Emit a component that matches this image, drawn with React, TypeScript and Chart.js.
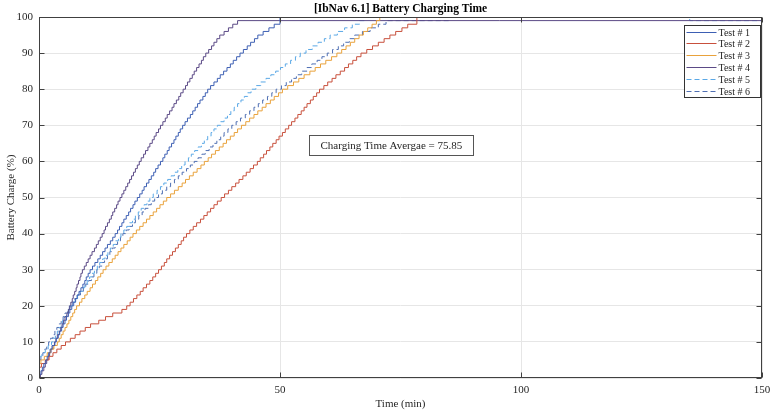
import React, { useEffect, useRef } from "react";
import { Chart, registerables } from "chart.js";

Chart.register(...registerables);

const chartTitle = "[IbNav 6.1] Battery Charging Time";
const xAxisTitle = "Time (min)";
const yAxisTitle = "Battery Charge (%)";
const seriesNames = ["Test # 1", "Test # 2", "Test # 3", "Test # 4", "Test # 5", "Test # 6"];
const seriesColors = ["#3d5fb3", "#c8503c", "#e9a23b", "#5b4a86", "#5aa8e6", "#4f6fb3"];
const seriesDashed = [false, false, false, false, true, true];
const xTicks = [0, 50, 100, 150];
const yTicks = [0, 10, 20, 30, 40, 50, 60, 70, 80, 90, 100];
const annotationText = "Charging Time Avergae = 75.85";
const annotationRange = { xFrom: 56, xTo: 90, yFrom: 61.8, yTo: 67.3 };

// [time (min), charge (%)]
const test1: [number, number][] = [[0,1],[0.4,2],[0.7,3],[1.0,4],[1.4,5],[1.7,6],[2.0,7],[2.3,8],[2.7,9],[3.3,10],[3.6,11],[4.0,12],[4.3,13],[4.7,14],[5.0,15],[5.4,16],[5.7,17],[6.1,18],[6.4,19],[6.8,20],[7.2,21],[7.6,22],[7.9,23],[8.3,24],[8.7,25],[9.1,26],[9.5,27],[9.8,28],[10.2,29],[10.6,30],[11.1,31],[11.6,32],[12.2,33],[12.7,34],[13.2,35],[13.7,36],[14.2,37],[14.8,38],[15.3,39],[15.8,40],[16.3,41],[16.7,42],[17.2,43],[17.6,44],[18.1,45],[18.6,46],[19.0,47],[19.5,48],[19.9,49],[20.4,50],[20.9,51],[21.4,52],[21.8,53],[22.3,54],[22.8,55],[23.3,56],[23.8,57],[24.2,58],[24.7,59],[25.2,60],[25.7,61],[26.1,62],[26.6,63],[27.0,64],[27.5,65],[28.0,66],[28.4,67],[28.9,68],[29.3,69],[29.8,70],[30.3,71],[30.8,72],[31.4,73],[31.9,74],[32.4,75],[32.9,76],[33.4,77],[34.0,78],[34.5,79],[35.0,80],[35.6,81],[36.3,82],[37.0,83],[37.6,84],[38.3,85],[39.0,86],[39.7,87],[40.3,88],[41.0,89],[41.7,90],[42.4,91],[43.2,92],[43.9,93],[44.7,94],[45.4,95],[46.5,96],[47.7,97],[48.8,98],[50.0,100],[150,100]];

const test2: [number, number][] = [[0,3],[0.5,4],[1.3,5],[2.1,6],[2.9,7],[3.7,8],[4.6,9],[5.5,10],[6.5,11],[7.5,12],[8.5,13],[9.6,14],[10.7,15],[12.4,16],[13.8,17],[15.3,18],[17.2,19],[18.2,20],[18.9,21],[19.6,22],[20.3,23],[21.0,24],[21.6,25],[22.3,26],[23.0,27],[23.6,28],[24.2,29],[24.8,30],[25.4,31],[26.0,32],[26.5,33],[27.1,34],[27.7,35],[28.3,36],[28.9,37],[29.5,38],[30.0,39],[30.6,40],[31.3,41],[32.0,42],[32.7,43],[33.5,44],[34.2,45],[34.9,46],[35.6,47],[36.3,48],[37.0,49],[37.8,50],[38.5,51],[39.3,52],[40.0,53],[40.8,54],[41.5,55],[42.3,56],[43.0,57],[43.8,58],[44.5,59],[45.3,60],[45.9,61],[46.6,62],[47.2,63],[47.9,64],[48.5,65],[49.2,66],[49.8,67],[50.5,68],[51.1,69],[51.8,70],[52.4,71],[53.1,72],[53.7,73],[54.4,74],[55.0,75],[55.6,76],[56.3,77],[56.9,78],[57.6,79],[58.2,80],[59.1,81],[59.9,82],[60.8,83],[61.6,84],[62.5,85],[63.4,86],[64.2,87],[65.1,88],[65.9,89],[66.8,90],[68.0,91],[69.2,92],[70.4,93],[71.6,94],[72.8,95],[74.0,96],[75.3,97],[76.5,98],[78.4,100],[150,100]];

const test3: [number, number][] = [[0,4],[0.4,5],[1.1,6],[1.7,7],[2.4,8],[3.1,9],[3.8,10],[4.2,11],[4.6,12],[5.0,13],[5.4,14],[5.8,15],[6.2,16],[6.6,17],[7.0,18],[7.4,19],[7.8,20],[8.4,21],[8.9,22],[9.5,23],[10.0,24],[10.6,25],[11.1,26],[11.7,27],[12.2,28],[12.8,29],[13.3,30],[13.9,31],[14.5,32],[15.2,33],[15.8,34],[16.4,35],[17.0,36],[17.6,37],[18.3,38],[18.9,39],[19.5,40],[20.2,41],[20.9,42],[21.6,43],[22.3,44],[23.0,45],[23.7,46],[24.4,47],[25.1,48],[25.8,49],[26.5,50],[27.3,51],[28.1,52],[28.9,53],[29.7,54],[30.4,55],[31.2,56],[32.0,57],[32.8,58],[33.6,59],[34.3,60],[35.1,61],[35.8,62],[36.6,63],[37.4,64],[38.2,65],[38.9,66],[39.7,67],[40.5,68],[41.2,69],[42.0,70],[42.9,71],[43.7,72],[44.6,73],[45.4,74],[46.3,75],[47.1,76],[48.0,77],[48.8,78],[49.7,79],[50.5,80],[51.6,81],[52.8,82],[53.9,83],[55.0,84],[56.2,85],[57.3,86],[58.4,87],[59.5,88],[60.7,89],[61.8,90],[62.8,91],[63.7,92],[64.6,93],[65.5,94],[66.4,95],[67.3,96],[68.2,97],[69.1,98],[70.0,99],[70.7,100],[150,100]];

const test4: [number, number][] = [[0,0],[0.3,1],[0.6,2],[1.0,3],[1.3,4],[1.6,5],[1.9,6],[2.2,7],[2.5,8],[2.9,9],[3.2,10],[3.5,11],[3.8,12],[4.2,13],[4.5,14],[4.8,15],[5.1,16],[5.4,17],[5.8,18],[6.1,19],[6.4,20],[6.6,21],[6.9,22],[7.1,23],[7.4,24],[7.7,25],[7.9,26],[8.2,27],[8.5,28],[8.7,29],[9.0,30],[9.4,31],[9.8,32],[10.2,33],[10.6,34],[11.0,35],[11.5,36],[11.9,37],[12.3,38],[12.7,39],[13.1,40],[13.5,41],[13.8,42],[14.2,43],[14.6,44],[15.0,45],[15.3,46],[15.7,47],[16.1,48],[16.4,49],[16.8,50],[17.2,51],[17.6,52],[18.0,53],[18.4,54],[18.8,55],[19.2,56],[19.6,57],[20.0,58],[20.4,59],[20.8,60],[21.2,61],[21.7,62],[22.1,63],[22.6,64],[23.0,65],[23.5,66],[23.9,67],[24.3,68],[24.8,69],[25.2,70],[25.7,71],[26.2,72],[26.6,73],[27.1,74],[27.6,75],[28.0,76],[28.5,77],[29.0,78],[29.4,79],[29.9,80],[30.4,81],[30.8,82],[31.3,83],[31.8,84],[32.2,85],[32.7,86],[33.2,87],[33.7,88],[34.1,89],[34.6,90],[35.2,91],[35.8,92],[36.3,93],[36.9,94],[37.5,95],[38.4,96],[39.3,97],[40.2,98],[41.2,99],[150,99]];

const test5: [number, number][] = [[0,6],[0.6,7],[1.3,8],[1.9,9],[2.6,10],[3.0,11],[3.4,12],[3.8,13],[4.2,14],[4.6,15],[4.9,16],[5.3,17],[5.7,18],[6.1,19],[6.5,20],[7.0,21],[7.5,22],[8.0,23],[8.5,24],[9.0,25],[9.5,26],[10.0,27],[10.5,28],[11.0,29],[11.5,30],[12.1,31],[12.6,32],[13.2,33],[13.7,34],[14.3,35],[14.8,36],[15.4,37],[15.9,38],[16.5,39],[17.0,40],[17.6,41],[18.2,42],[18.8,43],[19.4,44],[20.0,45],[20.6,46],[21.2,47],[21.8,48],[22.4,49],[23.0,50],[23.7,51],[24.5,52],[25.2,53],[25.9,54],[26.7,55],[27.4,56],[28.1,57],[28.8,58],[29.6,59],[30.3,60],[31.0,61],[31.6,62],[32.3,63],[33.0,64],[33.7,65],[34.3,66],[35.0,67],[35.7,68],[36.3,69],[37.0,70],[37.7,71],[38.4,72],[39.1,73],[39.8,74],[40.5,75],[41.2,76],[41.9,77],[42.6,78],[43.3,79],[44.0,80],[45.0,81],[46.0,82],[47.1,83],[48.1,84],[49.1,85],[50.1,86],[51.1,87],[52.2,88],[53.2,89],[54.2,90],[55.4,91],[56.7,92],[57.9,93],[59.2,94],[60.4,95],[61.9,96],[63.4,97],[65.0,98],[66.5,99],[67.5,100],[135,99],[150,99]];

const test6: [number, number][] = [[0,5],[0.4,6],[0.8,7],[1.2,8],[1.6,9],[2.0,10],[2.4,11],[2.9,12],[3.3,13],[3.7,14],[4.2,15],[4.6,16],[5.0,17],[5.4,18],[5.9,19],[6.3,20],[6.9,21],[7.4,22],[8.0,23],[8.6,24],[9.2,25],[9.7,26],[10.3,27],[10.9,28],[11.4,29],[12.0,30],[12.5,31],[13.1,32],[13.6,33],[14.2,34],[14.7,35],[15.2,36],[15.8,37],[16.3,38],[16.9,39],[17.4,40],[18.1,41],[18.7,42],[19.4,43],[20.0,44],[20.7,45],[21.4,46],[22.0,47],[22.7,48],[23.3,49],[24.0,50],[24.8,51],[25.6,52],[26.5,53],[27.3,54],[28.1,55],[28.9,56],[29.7,57],[30.6,58],[31.4,59],[32.2,60],[33.0,61],[33.8,62],[34.5,63],[35.3,64],[36.1,65],[36.9,66],[37.7,67],[38.4,68],[39.2,69],[40.0,70],[40.9,71],[41.8,72],[42.8,73],[43.7,74],[44.6,75],[45.5,76],[46.4,77],[47.4,78],[48.3,79],[49.2,80],[50.3,81],[51.3,82],[52.4,83],[53.4,84],[54.5,85],[55.6,86],[56.6,87],[57.7,88],[58.7,89],[59.8,90],[60.9,91],[62.1,92],[63.2,93],[64.4,94],[65.5,95],[67.1,96],[68.7,97],[70.4,98],[72.0,99],[85.0,100],[150,100]];

const allSeries = [test1, test2, test3, test4, test5, test6];

const FONT = "'Liberation Serif', 'Times New Roman', serif";
const TEXT = "#262626";

const framePlugin = {
  id: "matlabFrame",
  afterDatasetsDraw(chart: any) {
    const { ctx, chartArea: a, scales } = chart;
    const xs = scales.x;
    const ys = scales.y;
    ctx.save();

    // title centred over the axes
    ctx.fillStyle = "#000000";
    ctx.font = `bold 11.5px ${FONT}`;
    ctx.textAlign = "center";
    ctx.textBaseline = "middle";
    ctx.fillText(chartTitle, (a.left + a.right) / 2, 9.5);

    // annotation box
    const bx0 = Math.round(xs.getPixelForValue(annotationRange.xFrom)) + 0.5;
    const bx1 = Math.round(xs.getPixelForValue(annotationRange.xTo)) + 0.5;
    const by0 = Math.round(ys.getPixelForValue(annotationRange.yTo)) + 0.5;
    const by1 = Math.round(ys.getPixelForValue(annotationRange.yFrom)) + 0.5;
    ctx.fillStyle = "#ffffff";
    ctx.fillRect(bx0, by0, bx1 - bx0, by1 - by0);
    ctx.strokeStyle = "#555555";
    ctx.lineWidth = 1;
    ctx.strokeRect(bx0, by0, bx1 - bx0, by1 - by0);
    ctx.fillStyle = TEXT;
    ctx.font = `11px ${FONT}`;
    ctx.textBaseline = "middle";
    ctx.textAlign = "left";
    ctx.fillText(annotationText, bx0 + 11, (by0 + by1) / 2 + 0.5);

    // axes box
    ctx.strokeStyle = "#404040";
    ctx.lineWidth = 1;
    const L = Math.round(a.left) + 0.5;
    const R = Math.round(a.right) - 0.5;
    const T = Math.round(a.top) + 0.5;
    const B = Math.round(a.bottom) - 0.5;
    ctx.strokeRect(L, T, R - L, B - T);
    const tl = 5;
    ctx.beginPath();
    for (const v of yTicks) {
      const y = Math.round(ys.getPixelForValue(v)) + 0.5;
      ctx.moveTo(L, y); ctx.lineTo(L + tl, y);
      ctx.moveTo(R, y); ctx.lineTo(R - tl, y);
    }
    for (const v of xTicks) {
      const x = Math.round(xs.getPixelForValue(v)) + 0.5;
      ctx.moveTo(x, B); ctx.lineTo(x, B - tl);
      ctx.moveTo(x, T); ctx.lineTo(x, T + tl);
    }
    ctx.stroke();

    // legend inside the axes (top-right)
    const lw = 76, lh = 72;
    const lx = Math.round(R - 2 - lw) + 0.5;
    const ly = Math.round(T + 7) + 0.5;
    ctx.fillStyle = "#ffffff";
    ctx.fillRect(lx, ly, lw, lh);
    ctx.strokeStyle = "#333333";
    ctx.strokeRect(lx, ly, lw, lh);
    ctx.font = `10px ${FONT}`;
    ctx.textBaseline = "middle";
    ctx.textAlign = "left";
    seriesNames.forEach((name, i) => {
      const cy = Math.round(ly + 6 + i * 11.8) + 0.5;
      ctx.strokeStyle = seriesColors[i];
      ctx.lineWidth = 1;
      ctx.setLineDash(seriesDashed[i] ? [5, 3] : []);
      ctx.beginPath();
      ctx.moveTo(lx + 2, cy);
      ctx.lineTo(lx + 32, cy);
      ctx.stroke();
      ctx.setLineDash([]);
      ctx.fillStyle = TEXT;
      ctx.fillText(name, lx + 34, cy + 0.5);
    });
    ctx.restore();
  },
};

export default function App() {
  const ref = useRef<HTMLCanvasElement | null>(null);
  useEffect(() => {
    if (!ref.current) return;
    const chart = new Chart(ref.current, {
      type: "line",
      data: {
        datasets: allSeries.map((s, i) => ({
          label: seriesNames[i],
          data: s.map(([x, y]) => ({ x, y })),
          borderColor: seriesColors[i],
          backgroundColor: seriesColors[i],
          borderWidth: 1,
          borderDash: seriesDashed[i] ? [5, 3] : [],
          pointRadius: 0,
          stepped: "before" as const,
          fill: false,
        })),
      },
      options: {
        animation: false,
        responsive: false,
        events: [],
        layout: { padding: { left: 0, right: 11, top: 17, bottom: 0 } },
        plugins: {
          legend: { display: false },
          tooltip: { enabled: false },
          title: { display: false },
        },
        scales: {
          x: {
            type: "linear",
            min: 0,
            max: 150,
            afterFit: (s: any) => { s.height = 35; s.paddingLeft = 0; s.paddingRight = 0; },
            afterBuildTicks: (s: any) => { s.ticks = xTicks.map((v) => ({ value: v })); },
            ticks: { color: TEXT, font: { family: FONT, size: 11 }, padding: 6, maxRotation: 0 },
            grid: { color: "#e6e6e6", drawTicks: false },
            border: { display: false },
            title: { display: true, text: xAxisTitle, color: TEXT, font: { family: FONT, size: 11 }, padding: { top: 0, bottom: 2 } },
          },
          y: {
            type: "linear",
            min: 0,
            max: 100,
            afterFit: (s: any) => { s.width = 39; s.paddingTop = 0; s.paddingBottom = 0; },
            afterBuildTicks: (s: any) => { s.ticks = yTicks.map((v) => ({ value: v })); },
            ticks: { color: TEXT, font: { family: FONT, size: 11 }, padding: 6 },
            grid: { color: "#e6e6e6", drawTicks: false },
            border: { display: false },
            title: { display: true, text: yAxisTitle, color: TEXT, font: { family: FONT, size: 11 }, padding: { top: 5, bottom: 0 } },
          },
        },
      },
      plugins: [framePlugin],
    });
    return () => chart.destroy();
  }, []);
  return (
    <div style={{ position: "absolute", left: 0, top: 0, width: 773, height: 413, background: "#ffffff" }}>
      <canvas ref={ref} width={773} height={413} style={{ display: "block" }} />
    </div>
  );
}
